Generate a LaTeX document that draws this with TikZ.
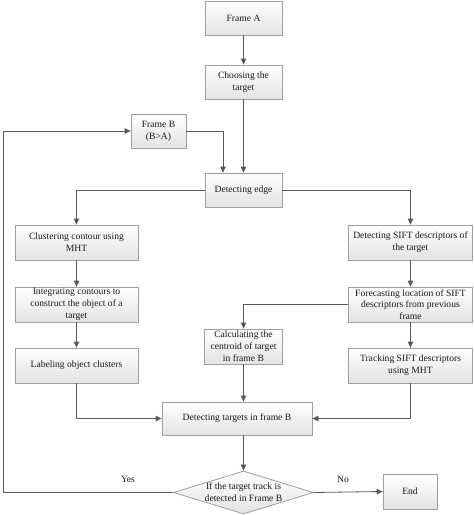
\documentclass[tikz,border=0pt]{standalone}
\usepackage{fontspec}
\setmainfont{Liberation Serif}
\usetikzlibrary{arrows.meta,shapes.geometric}
\begin{document}
\begin{tikzpicture}[x=1pt,y=-1pt,
  box/.style={draw=gray!75, line width=0.8pt, top color=white, bottom color=gray!22,
    align=center, inner sep=1pt, font=\fontsize{9.6}{11.8}\selectfont, text=black!90},
  conn/.style={draw=black!65, line width=0.8pt, -{Triangle[length=6pt,width=5.5pt]}},
  lbl/.style={font=\fontsize{9.6}{11}\selectfont, text=black!90}]
\useasboundingbox (0,0) rectangle (474,515);

\node[box, minimum width=77pt, minimum height=34pt] (frameA) at (243.5,18) {Frame A};
\node[box, minimum width=77pt, minimum height=34pt] (choose) at (243.5,82) {Choosing the\\target};
\node[box, minimum width=55pt, minimum height=34pt] (frameB) at (158.5,131) {Frame B\\(B>A)};
\node[box, minimum width=77pt, minimum height=34pt] (edge) at (243.5,190) {Detecting edge};
\node[box, minimum width=123pt, minimum height=35pt] (cluster) at (76.5,242.5) {Clustering contour using\\MHT};
\node[box, minimum width=124pt, minimum height=35pt] (sift) at (410.5,242.5) {Detecting SIFT descriptors of\\the target};
\node[box, minimum width=123pt, minimum height=35pt] (integ) at (76.5,304.5) {Integrating contours to\\construct the object of a\\target};
\node[box, minimum width=124pt, minimum height=35pt] (fore) at (410.5,304.5) {Forecasting location of SIFT\\descriptors from previous\\frame};
\node[box, minimum width=78pt, minimum height=35pt] (calc) at (243.5,346.5) {Calculating the\\centroid of target\\in frame B};
\node[box, minimum width=123pt, minimum height=35pt] (label) at (76.5,365.5) {Labeling object clusters};
\node[box, minimum width=124pt, minimum height=35pt] (track) at (410.5,365.5) {Tracking SIFT descriptors\\using MHT};
\node[box, minimum width=150pt, minimum height=33pt] (dtb) at (237,418.5) {Detecting targets in frame B};
\node[diamond, draw=gray!75, line width=0.8pt, top color=white, bottom color=gray!22,
  minimum width=140pt, minimum height=43pt, inner sep=0pt] (dec) at (243.5,492.5) {};
\node[align=center, font=\fontsize{9.6}{11.8}\selectfont, text=black!90, inner sep=0pt] (dectext) at (dec.center) {If the target track is\\detected in Frame B};
\node[box, minimum width=54pt, minimum height=35pt] (end) at (410,491.5) {End};

\coordinate (fbturn) at (223,131);
\coordinate (yesA) at (3,492.5);
\coordinate (yesB) at (3,131);

\draw[conn] (frameA) -- (choose);
\draw[conn] (choose) -- (edge);
\draw[conn] (frameB.east) -- (fbturn) -- (fbturn |- edge.north);
\draw[conn] (edge.west) -- (cluster.north |- edge.west) -- (cluster.north);
\draw[conn] (edge.east) -- (sift.north |- edge.east) -- (sift.north);
\draw[conn] (cluster) -- (integ);
\draw[conn] (integ) -- (label);
\draw[conn] (sift) -- (fore);
\draw[conn] (fore) -- (track);
\draw[conn] (fore.west) -- (calc.north |- fore.west) -- (calc.north);
\draw[conn] (calc.south) -- (calc.south |- dtb.north);
\draw[conn] (label.south) -- (label.south |- dtb.west) -- (dtb.west);
\draw[conn] (track.south) -- (track.south |- dtb.east) -- (dtb.east);
\draw[conn] (dec.north |- dtb.south) -- (dec.north);
\draw[conn] (dec.east) -- (end.west);
\draw[conn] (dec.west) -- (yesA) -- (yesB) -- (frameB.west);

\node[lbl] (yes) at (128,479) {Yes};
\node[lbl] (no) at (343,479) {No};
\end{tikzpicture}
\end{document}
